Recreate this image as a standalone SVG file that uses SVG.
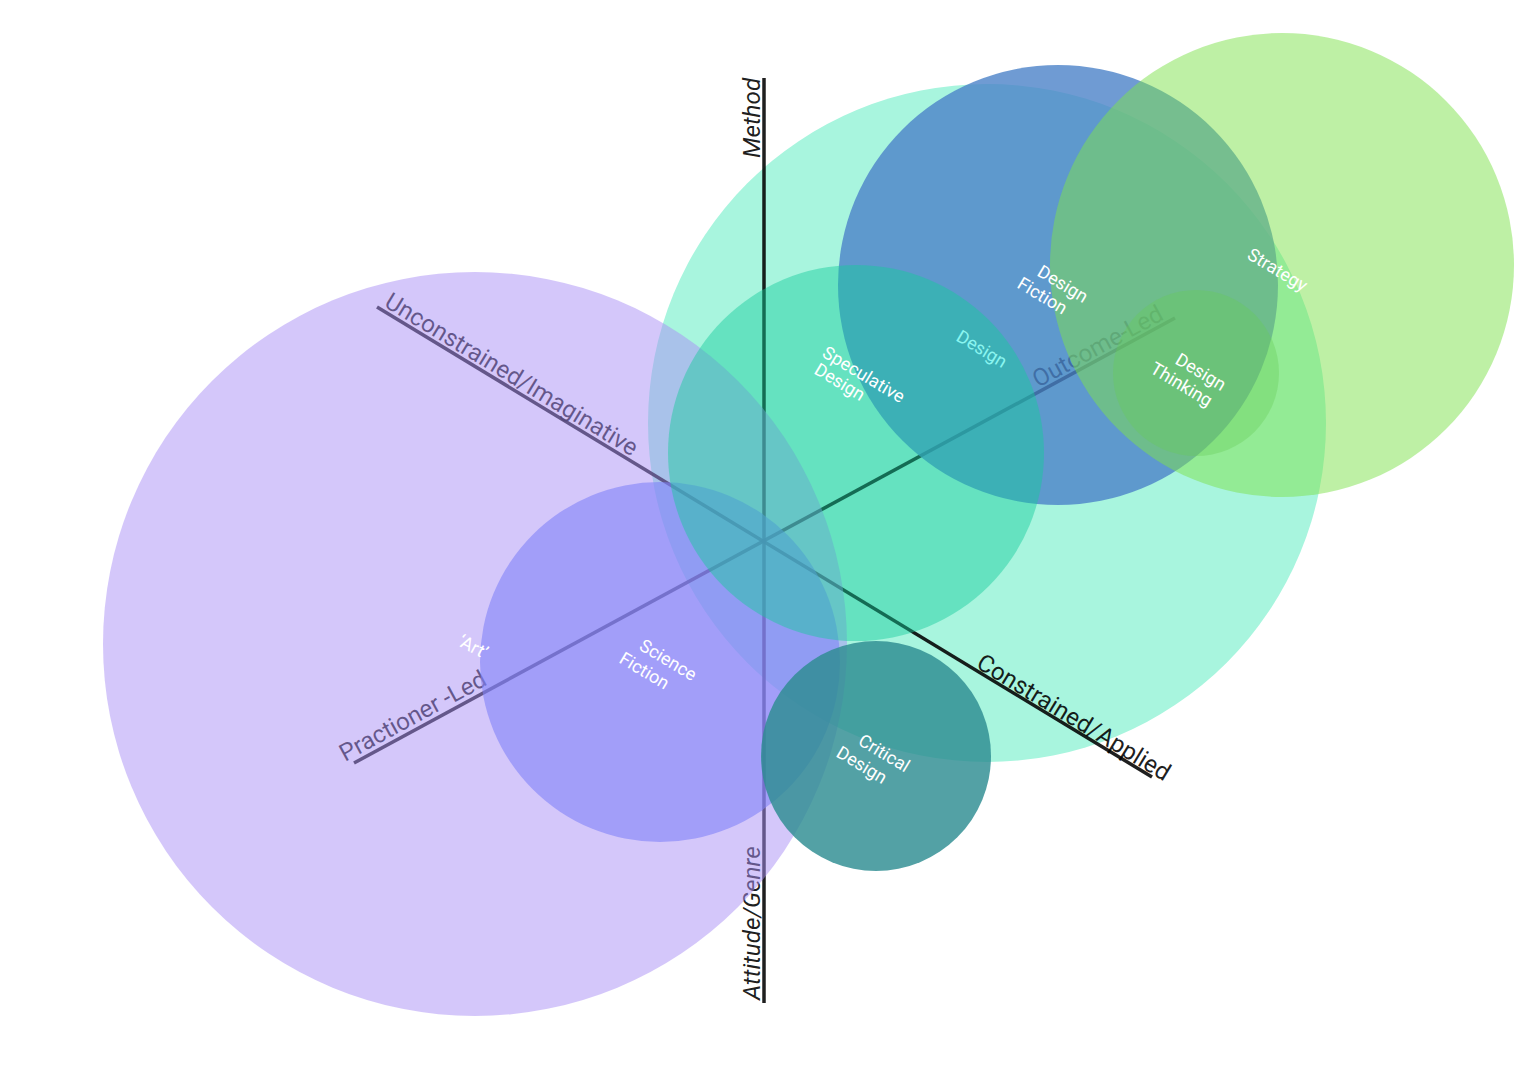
<svg xmlns="http://www.w3.org/2000/svg" width="1536" height="1069" viewBox="0 0 1536 1069">
<style>
.axis{stroke:#000;stroke-width:3.5;stroke-opacity:0.88;fill:none}
.axl{font-family:Roboto,"Liberation Sans",sans-serif;font-size:24.2px;fill:#000;fill-opacity:0.88}
.it{font-style:italic}
.lbl{font-family:Roboto,"Liberation Sans",sans-serif;font-size:18px;fill:#fff}
.cy{fill:#8af5f0}
</style>
<rect width="1536" height="1069" fill="#fff"/>
<g id="node-big-mint"><circle cx="987" cy="423" r="339" fill="#a8f5de"/></g>
<g id="connectors">
<line class="axis" x1="764" y1="78" x2="764" y2="1003"/>
<line class="axis" x1="377" y1="307" x2="1152" y2="777"/>
<line class="axis" x1="354" y1="763" x2="1175" y2="318"/>
<text class="axl it" transform="translate(760,158) rotate(-90)">Method</text>
<text class="axl it" transform="translate(760,1000) rotate(-90)">Attitude/Genre</text>
<text class="axl" transform="translate(383,306) rotate(31.2)">Unconstrained/Imaginative</text>
<text class="axl" transform="translate(975,667) rotate(31.2)">Constrained/Applied</text>
<text class="axl" transform="translate(345,762) rotate(-28.5)">Practioner -Led</text>
<text class="axl" transform="translate(1038,388) rotate(-28.5)">Outcome-Led</text>
</g>
<g id="node-art"><circle cx="475" cy="644" r="372" fill="#a990f5" fill-opacity="0.5"/></g>
<g id="node-science-fiction"><circle cx="660" cy="662" r="180" fill="#8082f8" fill-opacity="0.6"/></g>
<g id="node-design-fiction"><circle cx="1058" cy="285" r="220" fill="#4b82c8" fill-opacity="0.8"/></g>
<g id="node-speculative-design"><circle cx="856" cy="453" r="188" fill="#14cc9c" fill-opacity="0.45"/></g>
<g id="node-strategy"><circle cx="1282" cy="265" r="232" fill="#7de14b" fill-opacity="0.5"/></g>
<g id="node-design-thinking"><circle cx="1196" cy="373" r="83" fill="#66cc55" fill-opacity="0.35"/></g>
<g id="node-critical-design"><circle cx="876" cy="756" r="115" fill="#2d8c91" fill-opacity="0.82"/></g>
<g id="labels">
<text class="lbl" transform="translate(1036,275) rotate(31)">Design</text>
<text class="lbl" transform="translate(1016,287) rotate(31)">Fiction</text>
<text class="lbl" transform="translate(1246,258) rotate(31)">Strategy</text>
<text class="lbl" transform="translate(1174,363) rotate(31)">Design</text>
<text class="lbl" transform="translate(1149,372) rotate(31)">Thinking</text>
<text class="lbl" transform="translate(821,356) rotate(31)">Speculative</text>
<text class="lbl" transform="translate(813,373) rotate(31)">Design</text>
<text class="lbl cy" transform="translate(955,340) rotate(31)">Design</text>
<text class="lbl" transform="translate(457,645) rotate(28)">‘Art’</text>
<text class="lbl" transform="translate(638,649) rotate(31)">Science</text>
<text class="lbl" transform="translate(618,662) rotate(31)">Fiction</text>
<text class="lbl" transform="translate(857,744) rotate(31)">Critical</text>
<text class="lbl" transform="translate(835,756) rotate(31)">Design</text>
</g>
</svg>
